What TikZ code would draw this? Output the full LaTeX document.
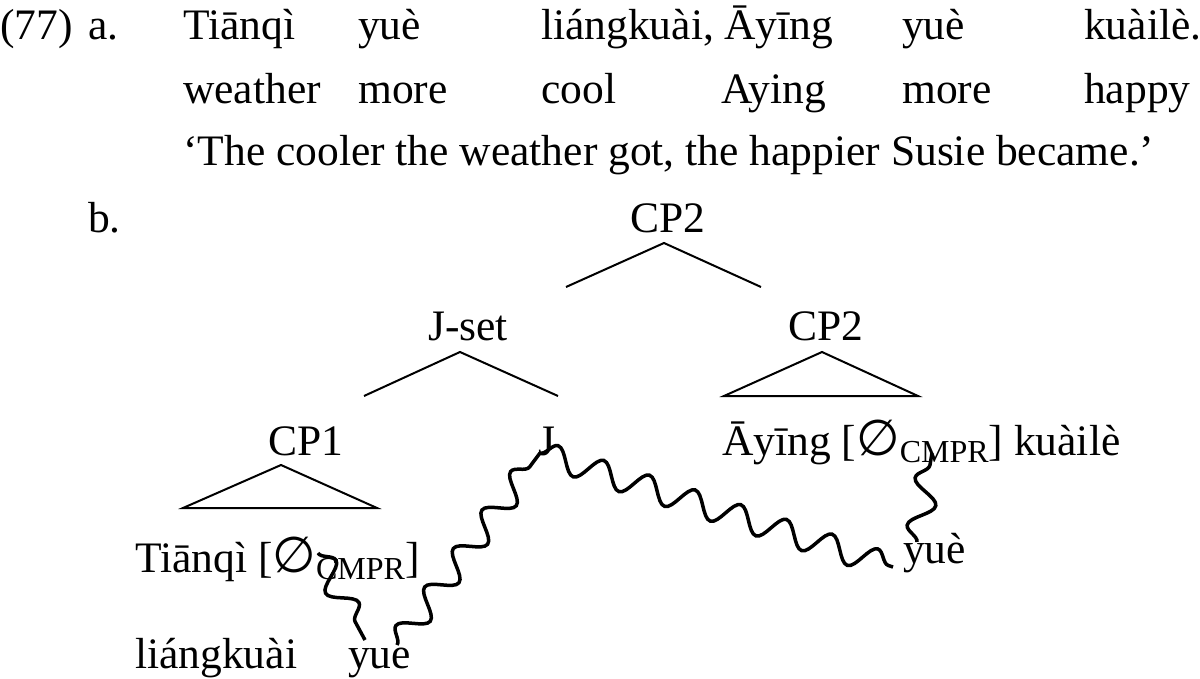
\documentclass[tikz,border=0pt]{standalone}
\usepackage{fontspec}
\setmainfont{Liberation Serif}
\newfontfamily\symfont{DejaVu Sans}[Scale=1.0]
\usetikzlibrary{decorations.pathmorphing}
\tikzset{
  txt/.style={anchor=base west, inner sep=0pt, font=\fontsize{43.5}{48}\selectfont},
  ctxt/.style={anchor=base, inner sep=0pt, font=\fontsize{43.5}{48}\selectfont},
  branch/.style={line width=2pt},
  wave/.style={line width=3.5pt, decorate, decoration={snake, segment length=48pt, amplitude=12.5pt}},
}
\newcommand{\nulcmpr}{[{\fontsize{50}{50}\symfont ∅}\raisebox{-7pt}{\fontsize{32}{34}\selectfont CMPR}]}
\begin{document}
\begin{tikzpicture}[x=1pt,y=-1pt]
\useasboundingbox (0,0) rectangle (1200,679);
% (77a)
\node[txt] (num) at (0,40) {(77)};
\node[txt] (a) at (88,40) {a.};
\node[txt] (w1) at (183,40) {Tiānqì};
\node[txt] (w2) at (358,40) {yuè};
\node[txt] (w3) at (541,40) {liángkuài,};
\node[txt] (w4) at (724,40) {Āyīng};
\node[txt] (w5) at (902,40) {yuè};
\node[txt] (w6) at (1084,40) {kuàilè.};
\node[txt] (g1) at (183,104) {weather};
\node[txt] (g2) at (358,104) {more};
\node[txt] (g3) at (541,104) {cool};
\node[txt] (g4) at (721,104) {Aying};
\node[txt] (g5) at (902,104) {more};
\node[txt] (g6) at (1084,104) {happy};
\node[txt] (tr) at (183,166) {‘The cooler the weather got, the happier Susie became.’};
% (77b)
\node[txt] (b) at (88,233) {b.};
\node[ctxt] (cp2top) at (668,233) {CP2};
\node[ctxt] (jset) at (468,340) {J-set};
\node[ctxt] (cp2r) at (826,340) {CP2};
\node[ctxt] (cp1) at (306,455) {CP1};
\node[ctxt] (j) at (547,455) {J};
\node[txt] (ay) at (722,455) {Āyīng \nulcmpr{} kuàilè};
\node[txt] (tq) at (135,572) {Tiānqì \nulcmpr};
\node[txt] (lk) at (135,668) {liángkuài};
\node[txt] (yueL) at (348,668) {yue};
\node[txt] (yueR) at (903,563) {yuè};
% branches
\coordinate (t0) at (664,243);
\coordinate (t1) at (566,287);
\coordinate (t2) at (761,287);
\draw[branch] (t1) -- (t0) -- (t2);
\coordinate (j0) at (460,352);
\coordinate (j1) at (364,396);
\coordinate (j2) at (558,396);
\draw[branch] (j1) -- (j0) -- (j2);
\coordinate (r0) at (822,352);
\coordinate (r1) at (724,396);
\coordinate (r2) at (918,396);
\draw[branch] (r1) -- (r0) -- (r2) -- cycle;
\coordinate (c0) at (281,465);
\coordinate (c1) at (183,508);
\coordinate (c2) at (377,508);
\draw[branch] (c1) -- (c0) -- (c2) -- cycle;
% wavy lines
\coordinate (s1a) at (397,645);
\coordinate (s1b) at (540,453);
\draw[wave] (s1a) -- (s1b);
\coordinate (s2a) at (318,553);
\coordinate (s2b) at (365,640);
\draw[wave] (s2a) -- (s2b);
\coordinate (s3b) at (893,567);
\draw[wave] (s1b) -- (s3b);
\coordinate (s4a) at (917,542);
\coordinate (s4b) at (932,453);
\draw[wave] (s4a) -- (s4b);
\end{tikzpicture}
\end{document}
